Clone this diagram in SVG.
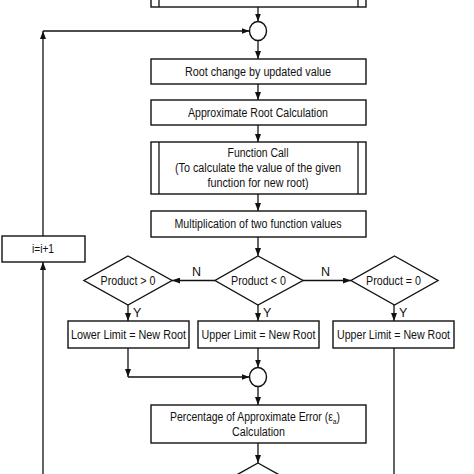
<svg xmlns="http://www.w3.org/2000/svg" width="474" height="474" viewBox="0 0 474 474">
<defs>
<style>
.box{fill:#fff;stroke:#111;stroke-width:1.4}
.ln{fill:none;stroke:#111;stroke-width:1.3}
.t{font-family:"Liberation Sans",Arial,sans-serif;font-size:12.5px;fill:#111;text-anchor:middle}
.l{font-family:"Liberation Sans",Arial,sans-serif;font-size:12.5px;fill:#111}
</style>
<marker id="ah" markerUnits="userSpaceOnUse" markerWidth="8" markerHeight="6" refX="8" refY="3" orient="auto">
<path d="M0,0 L8,3 L0,6 z" fill="#111"/>
</marker>
</defs>
<rect width="474" height="474" fill="#fff"/>

<g id="connectors">
<path class="ln" d="M258,7 V21.5" marker-end="url(#ah)"/>
<path class="ln" d="M43,236 V31" marker-end="url(#ah)"/>
<path class="ln" d="M43,31 H249.5" marker-end="url(#ah)"/>
<path class="ln" d="M258,40.5 V59" marker-end="url(#ah)"/>
<path class="ln" d="M258,84 V100" marker-end="url(#ah)"/>
<path class="ln" d="M258,125 V142" marker-end="url(#ah)"/>
<path class="ln" d="M258,194 V211" marker-end="url(#ah)"/>
<path class="ln" d="M258,237 V256" marker-end="url(#ah)"/>
<path class="ln" d="M215,280.5 H172" marker-end="url(#ah)"/>
<path class="ln" d="M303,280.5 H351" marker-end="url(#ah)"/>
<path class="ln" d="M128,305 V321" marker-end="url(#ah)"/>
<path class="ln" d="M258,305 V321" marker-end="url(#ah)"/>
<path class="ln" d="M394,305 V321" marker-end="url(#ah)"/>
<path class="ln" d="M128,348 V377" marker-end="url(#ah)"/>
<path class="ln" d="M128,377 H249.5" marker-end="url(#ah)"/>
<path class="ln" d="M258,348 V367.5" marker-end="url(#ah)"/>
<path class="ln" d="M394,348 V474"/>
<path class="ln" d="M258,386.5 V405" marker-end="url(#ah)"/>
<path class="ln" d="M258,443 V463" marker-end="url(#ah)"/>
<path class="ln" d="M43,474 V262" marker-end="url(#ah)"/>
<text class="l" x="192" y="276">N</text>
<text class="l" x="321" y="276">N</text>
<text class="l" x="133" y="317">Y</text>
<text class="l" x="263" y="317">Y</text>
<text class="l" x="399" y="317">Y</text>
</g>

<g id="top-box">
<rect class="box" x="151" y="-20" width="215" height="27"/>
<path class="ln" d="M159,-20 V7 M358,-20 V7"/>
</g>

<g id="join1"><ellipse class="box" cx="258" cy="31" rx="8.5" ry="9.5"/></g>

<g id="root-change">
<rect class="box" x="151" y="59" width="215" height="25"/>
<text class="t" x="258" y="76" textLength="146" lengthAdjust="spacingAndGlyphs">Root change by updated value</text>
</g>

<g id="approx-root">
<rect class="box" x="151" y="100" width="215" height="25"/>
<text class="t" x="258" y="117" textLength="140" lengthAdjust="spacingAndGlyphs">Approximate Root Calculation</text>
</g>

<g id="function-call">
<rect class="box" x="151" y="142" width="215" height="52"/>
<path class="ln" d="M159,142 V194 M358,142 V194"/>
<text class="t" x="258" y="157" textLength="61" lengthAdjust="spacingAndGlyphs">Function Call</text>
<text class="t" x="258" y="172" textLength="166" lengthAdjust="spacingAndGlyphs">(To calculate the value of the given</text>
<text class="t" x="258" y="187" textLength="101" lengthAdjust="spacingAndGlyphs">function for new root)</text>
</g>

<g id="multiplication">
<rect class="box" x="151" y="211" width="215" height="26"/>
<text class="t" x="258" y="228" textLength="167" lengthAdjust="spacingAndGlyphs">Multiplication of two function values</text>
</g>

<g id="increment">
<rect class="box" x="2" y="236" width="83" height="26"/>
<text class="t" x="43" y="253" textLength="22" lengthAdjust="spacingAndGlyphs">i=i+1</text>
</g>

<g id="product-gt">
<path class="box" d="M128,256 L172,280.5 L128,305 L84,280.5 Z"/>
<text class="t" x="128" y="285" textLength="55" lengthAdjust="spacingAndGlyphs">Product &gt; 0</text>
</g>

<g id="product-lt">
<path class="box" d="M258,256 L303,280.5 L258,305 L215,280.5 Z"/>
<text class="t" x="258.5" y="285" textLength="55" lengthAdjust="spacingAndGlyphs">Product &lt; 0</text>
</g>

<g id="product-eq">
<path class="box" d="M394.5,256 L438,280.5 L394.5,305 L351,280.5 Z"/>
<text class="t" x="393.5" y="285" textLength="55" lengthAdjust="spacingAndGlyphs">Product = 0</text>
</g>

<g id="lower-limit">
<rect class="box" x="68" y="321" width="121" height="27"/>
<text class="t" x="128.5" y="339" textLength="115" lengthAdjust="spacingAndGlyphs">Lower Limit = New Root</text>
</g>

<g id="upper-limit-1">
<rect class="box" x="198" y="321" width="121" height="27"/>
<text class="t" x="258.5" y="339" textLength="114" lengthAdjust="spacingAndGlyphs">Upper Limit = New Root</text>
</g>

<g id="upper-limit-2">
<rect class="box" x="333" y="321" width="121" height="27"/>
<text class="t" x="393.5" y="339" textLength="113" lengthAdjust="spacingAndGlyphs">Upper Limit = New Root</text>
</g>

<g id="join2"><ellipse class="box" cx="258" cy="377" rx="8.5" ry="9.5"/></g>

<g id="error-calc">
<rect class="box" x="151" y="405" width="215" height="38"/>
<text class="l" transform="translate(170,421) scale(0.835,1)" x="0" y="0">Percentage of Approximate Error (ε<tspan font-size="8" dy="3">a</tspan><tspan dy="-3">)</tspan></text>
<text class="t" x="258.5" y="436" textLength="53" lengthAdjust="spacingAndGlyphs">Calculation</text>
</g>

<g id="stop-check">
<path class="box" d="M258,463 L302,487.5 L258,512 L214,487.5 Z"/>
</g>
</svg>
